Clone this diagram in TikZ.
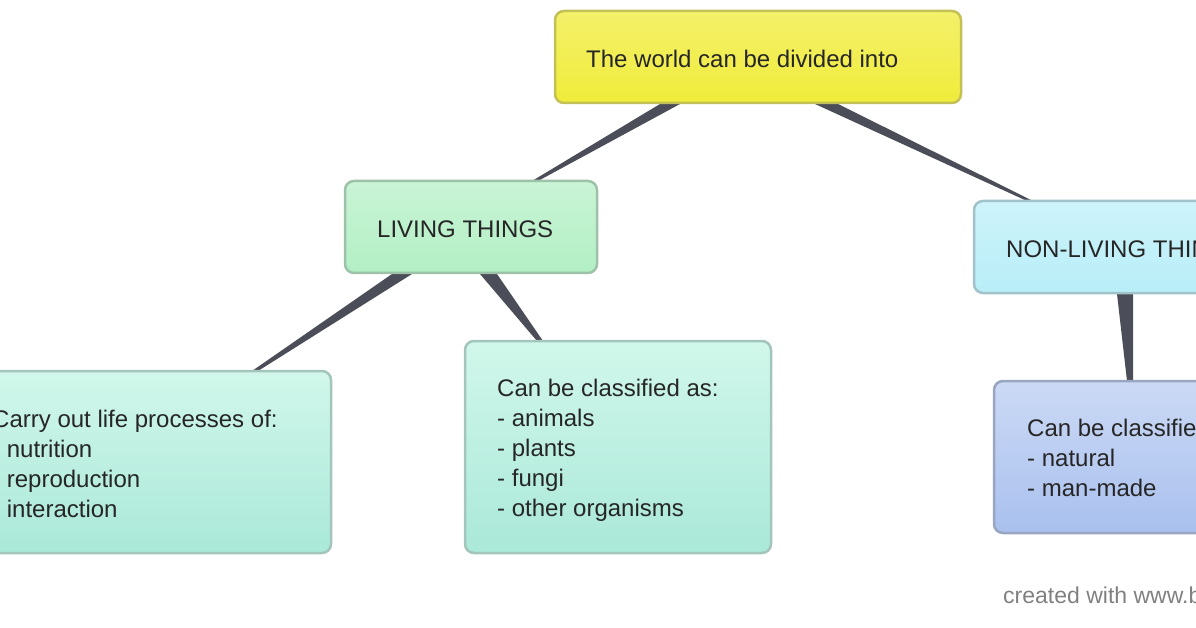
\documentclass[tikz,border=0pt]{standalone}
\usepackage{fontspec}
\setmainfont{Liberation Sans}
\begin{document}
\begin{tikzpicture}[x=1pt,y=-1pt,
  box/.style={draw=#1!75!black!80, line width=2.5pt, rounded corners=9pt, inner sep=0pt},
  txt/.style={anchor=west, align=left, inner sep=0pt, font=\fontsize{24}{30}\selectfont, text=black!85}]
\definecolor{ylw}{HTML}{F0EC3A}\definecolor{grn}{HTML}{B2EFC4}
\definecolor{cyn}{HTML}{B8EEF8}\definecolor{mnt}{HTML}{BDF4E2}
\definecolor{blu}{HTML}{A9C0EE}\definecolor{lnk}{HTML}{4B4E58}
\useasboundingbox (0,0) rectangle (1196,628);
\clip (0,0) rectangle (1196,628);
% connectors
\fill[lnk] (660,104) -- (680,104) -- (538,181) -- (532,181) -- cycle;
\fill[lnk] (815,104) -- (838,104) -- (1033,201) -- (1027,201) -- cycle;
\fill[lnk] (392,274) -- (412,274) -- (258,371) -- (252,371) -- cycle;
\fill[lnk] (480,274) -- (497,274) -- (543,341) -- (537,341) -- cycle;
\fill[lnk] (1117,294) -- (1133,294) -- (1133,381) -- (1127,381) -- cycle;
% boxes
\node[box=ylw, top color=ylw!75!white, bottom color=ylw, minimum width=406, minimum height=92] (top) at (758,57) {};
\node[box=grn, top color=grn!70!white, bottom color=grn, minimum width=252, minimum height=92] (liv) at (471,227) {};
\node[box=cyn, top color=cyn!70!white, bottom color=cyn, minimum width=300, minimum height=92] (non) at (1124,247) {};
\node[box=mnt, top color=mnt!70!white, bottom color=mnt!90!teal, minimum width=360, minimum height=182] (lp) at (151,462) {};
\node[box=mnt, top color=mnt!70!white, bottom color=mnt!90!teal, minimum width=306, minimum height=212] (cl) at (618,447) {};
\node[box=blu, top color=blu!60!white, bottom color=blu, minimum width=300, minimum height=152] (nc) at (1144,457) {};
% texts
\node[txt] (ttop) at (586,59) {The world can be divided into};
\node[txt] (tliv) at (377,229) {LIVING THINGS};
\node[txt] (tnon) at (1006,249) {NON-LIVING THINGS};
\node[txt, anchor=north west] (tlp) at (-8,410) {Carry out life processes of:\\- nutrition\\- reproduction\\- interaction};
\node[txt, anchor=north west] (tcl) at (497,379) {Can be classified as:\\- animals\\- plants\\- fungi\\- other organisms};
\node[txt, anchor=north west] (tnc) at (1027,419) {Can be classified as:\\- natural\\- man-made};
\node[txt, text=black!50, font=\fontsize{23}{26}\selectfont] (cr) at (1003,595) {created with www.bubbl.us};
\end{tikzpicture}
\end{document}
